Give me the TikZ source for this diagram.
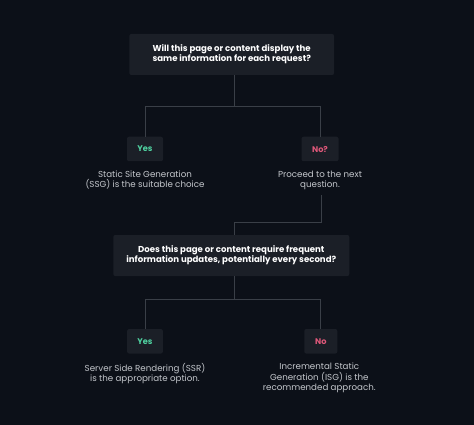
\documentclass[tikz,border=0pt]{standalone}
\usepackage{fontspec}
\setmainfont{Poppins}
\definecolor{bg}{HTML}{0C1018}
\definecolor{boxfill}{HTML}{1B1F27}
\definecolor{linec}{HTML}{3A3F47}
\definecolor{yesc}{HTML}{4FD1A0}
\definecolor{noc}{HTML}{E0587A}
\definecolor{bodyc}{HTML}{C4C7CC}
\tikzset{
  qbox/.style={fill=boxfill, rounded corners=2pt, minimum width=#1, minimum height=41pt, align=center, text=white, font=\fontsize{8.6}{10.3}\selectfont\bfseries, inner sep=0pt},
  ansbox/.style={fill=boxfill, rounded corners=2pt, minimum height=24.5pt, inner sep=0pt, font=\fontsize{8.2}{9}\selectfont\bfseries},
  desc/.style={align=center, text=bodyc, font=\fontsize{8.7}{10.4}\selectfont, inner sep=0pt},
  conn/.style={draw=linec, line width=1pt},
}
\begin{document}
\begin{tikzpicture}[x=1pt,y=-1pt]
\fill[bg] (0,0) rectangle (474,425);
\useasboundingbox (0,0) rectangle (474,425);
\node[qbox=204.7pt] (q1) at (231.7,54.5) {Will this page or content display the\\same information for each request?};
\node[ansbox, minimum width=36pt, text=yesc] (y1) at (145,149) {Yes};
\node[ansbox, minimum width=37pt, text=noc] (n1) at (320,149) {No?};
\node[desc, anchor=north] (d1) at (145,170.5) {Static Site Generation\\(SSG) is the suitable choice};
\node[desc, anchor=north] (d2) at (320,170.5) {Proceed to the next\\question.};
\node[qbox=236pt] (q2) at (231.3,255.5) {Does this page or content require frequent\\information updates, potentially every second?};
\node[ansbox, minimum width=35.7pt, text=yesc] (y2) at (145,341.3) {Yes};
\node[ansbox, minimum width=33pt, text=noc] (n2) at (320.8,341.3) {No};
\node[desc, anchor=north] (d3) at (145,363) {Server Side Rendering (SSR)\\is the appropriate option.};
\node[desc, anchor=north] (d4) at (319.3,363) {Incremental Static\\Generation (ISG) is the\\recommended approach.};
\coordinate (s1) at (234,106.7);
\coordinate (s2) at (234,299);
\draw[conn] (q1.south -| s1) -- (s1);
\draw[conn] (s1) -| (y1.north);
\draw[conn] (s1) -| (n1.north);
\coordinate (t2) at (321.7,195);
\coordinate (m2) at (321.7,222.7);
\draw[conn] (t2) -- (m2) -- (m2 -| s1) -- (q2.north -| s1);
\draw[conn] (q2.south -| s2) -- (s2);
\draw[conn] (s2) -| (y2.north);
\draw[conn] (s2) -| (n2.north);
\end{tikzpicture}
\end{document}
